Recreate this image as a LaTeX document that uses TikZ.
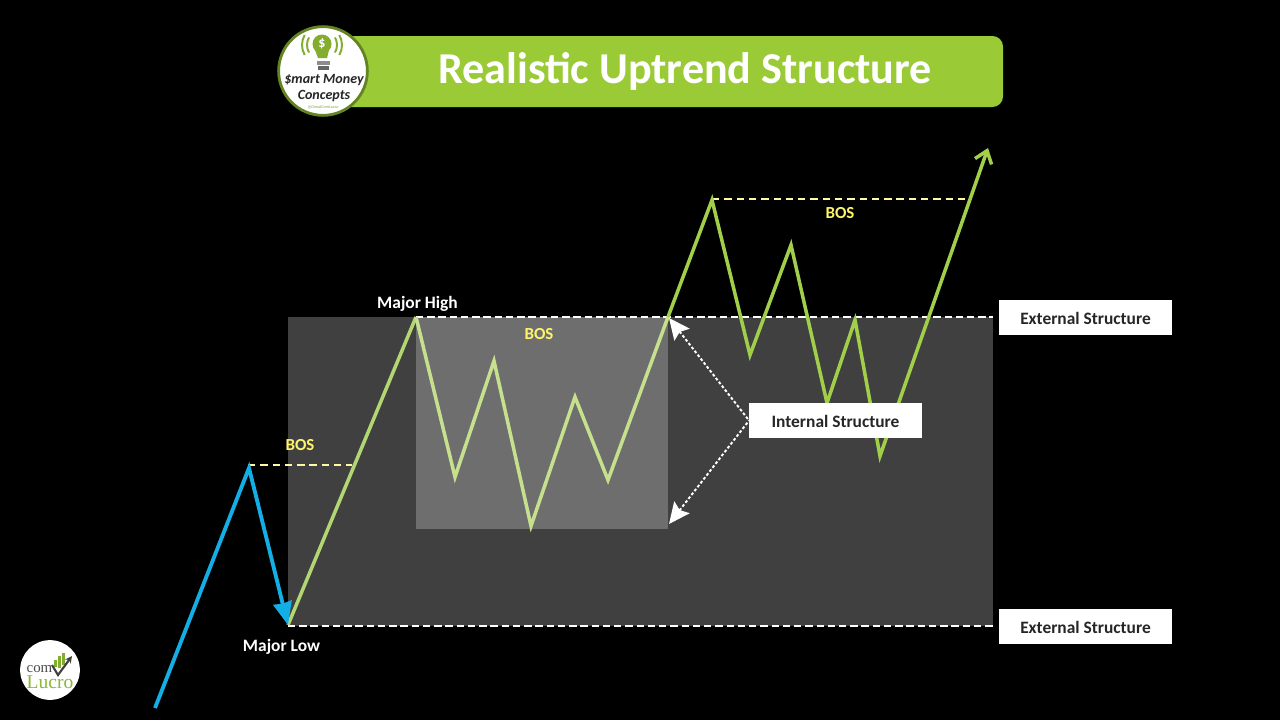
\documentclass[tikz,border=0pt]{standalone}
\usepackage{fontspec}
\setmainfont{Carlito}
\newfontfamily\logofont{Liberation Serif}
\usepackage{xcolor}
\usepackage{tikz}
\usetikzlibrary{positioning}
\usetikzlibrary{arrows.meta}
\usetikzlibrary{calc}

\definecolor{bannergreen}{HTML}{9ACB36}
\definecolor{trendgreen}{HTML}{A2CF4A}
\definecolor{washgreen}{HTML}{B2D672}
\definecolor{palegreen}{HTML}{C6E08E}
\definecolor{trendblue}{HTML}{14AEE6}
\definecolor{bosyellow}{HTML}{FFF56A}
\definecolor{darkzone}{HTML}{404040}
\definecolor{lightzone}{HTML}{6E6E6E}

\tikzset{
	trend/.style={line width=2pt, line join=miter},
	level/.style={white, line width=0.8pt, dash pattern=on 4.2pt off 2.2pt},
	boslevel/.style={bosyellow!60!white, line width=0.8pt, dash pattern=on 4.2pt off 2.8pt},
	tag/.style={fill=white, text=black!85, font=\fontsize{9.9}{11}\selectfont\bfseries, minimum width=98pt, minimum height=19.8pt, inner sep=0pt, text height=7.6pt, text depth=0pt},
	bos/.style={text=bosyellow, font=\fontsize{9.6}{11}\selectfont\bfseries, inner sep=0pt},
	major/.style={text=white, font=\fontsize{9.9}{11}\selectfont\bfseries, inner sep=0pt},
	pointer/.style={white, line width=1.1pt, dash pattern=on 1.6pt off 1.2pt, {Stealth[length=12pt,width=11pt,inset=2pt]}-},
}

\begin{document}
\begin{tikzpicture}[x=0.02cm, y=-0.02cm]
\fill[black] (0,0) rectangle (1280,720);
\useasboundingbox (0,0) rectangle (1280,720);

% zones
\fill[darkzone] (288,317) rectangle (993,626);
\fill[lightzone] (416,317) rectangle (668,529);

% blue leg
\coordinate (start) at (155,708);
\coordinate (peak0) at (249,468);
\coordinate (low) at (288,625);

% green leg
\coordinate (high) at (416,317);
\coordinate (a1) at (455,477);
\coordinate (a2) at (494,361);
\coordinate (a3) at (531,526);
\coordinate (a4) at (575,397);
\coordinate (a5) at (608,480);
\coordinate (a6) at (668,317);
\coordinate (b0) at (712,200);
\coordinate (b1) at (750,355);
\coordinate (b2) at (791,245);
\coordinate (b3) at (827,403);
\coordinate (b4) at (855,320);
\coordinate (b5) at (880,456);
\coordinate (end) at (988,148);

% levels
\coordinate (ext0) at (993,317);
\coordinate (ext1) at (993,626);
\coordinate (bos0a) at (248,465);
\coordinate (bos0b) at (352,465);
\coordinate (bos1b) at (968,199);
\draw[level] (high) -- (ext0);
\draw[level] (288,626) -- (ext1);
\draw[boslevel] (bos0a) -- (bos0b);
\draw[boslevel] (b0) ++(0,-1) -- (bos1b);

\draw[trend, washgreen] (low) -- (high);
\draw[trend, palegreen] (high) -- (a1) -- (a2) -- (a3) -- (a4) -- (a5) -- (a6);
\draw[trend, trendgreen, -{Straight Barb[length=6.5pt,width=10pt,line width=2pt]}] (a6) -- (b0) -- (b1) -- (b2) -- (b3) -- (b4) -- (b5) -- (end);
\draw[trend, trendblue, line width=2.2pt, -{Stealth[length=13pt,width=10.5pt,inset=0.5pt]}] (start) -- (peak0) -- (low);

% labels
\node[tag] (ext0tag) at (1085.5,317.5) {External Structure};
\node[tag] (ext1tag) at (1085.5,626.5) {External Structure};
\node[tag] (inttag) at (835.5,420.5) {Internal Structure};
\node[major] (hightag) at (417.5,303.5) {Major High};
\node[major] (lowtag) at (281.5,647) {Major Low};
\node[bos] (bos0) at (300,445) {BOS};
\node[bos] (bos1) at (539,334) {BOS};
\node[bos] (bos2) at (840,213) {BOS};

\coordinate (arrowtop) at (669,318);
\coordinate (arrowbot) at (669,524);
\draw[pointer] (arrowtop) -- (inttag.west);
\draw[pointer] (arrowbot) -- (inttag.west);

% banner
\fill[bannergreen, rounded corners=6pt] (340,36) rectangle (1003,107);
\node[white, font=\fontsize{25.1}{29}\selectfont\bfseries, inner sep=0pt] (title) at (685,71) {Realistic Uptrend Structure};

% top logo
\node[circle, draw=black!35!bannergreen, fill=white, line width=1.6pt, minimum size=50.5pt, inner sep=0pt] (logo) at (323,71) {};
\fill[black!15!bannergreen] (322,44) circle (9.5);
\fill[black!15!bannergreen] (315,50) -- (329,50) -- (327,58) -- (318,58) -- cycle;
\fill[black!45] (317,61) rectangle (330,65);
\fill[black!60] (318,66) rectangle (329,70);
\foreach \r in {15,20} {
	\draw[black!15!bannergreen, line width=1.1pt] (322,45) ++(150:\r) arc (150:210:\r);
	\draw[black!15!bannergreen, line width=1.1pt] (322,45) ++(30:\r) arc (30:-30:\r);
}
\node[white, font=\fontsize{8}{9}\selectfont\bfseries, inner sep=0pt] (dollar) at (322,44) {\$};
\node[black!85, font=\fontsize{8}{8.6}\selectfont\bfseries\itshape, align=center, inner sep=0pt] (logotext) at (324,88) {\$mart Money\\Concepts};
\node[black!15!bannergreen, font=\fontsize{2.4}{3}\selectfont\itshape, inner sep=0pt] (logohandle) at (323,107) {@DonalComLucro};

% bottom logo
\node[circle, fill=white, minimum size=34pt, inner sep=0pt] (lucro) at (50,670) {};
\fill[bannergreen!85!black] (54,660) rectangle (57,667);
\fill[bannergreen!85!black] (58,656) rectangle (61,668);
\fill[bannergreen!85!black] (62,653) rectangle (65,665);
\draw[black!75, line width=1.2pt, -{Stealth[length=4pt,width=4pt]}] (52,665) -- (58,675) -- (72,656);
\node[black!70, font=\logofont\fontsize{8.5}{9}\selectfont, inner sep=0pt] (lucrocom) at (39.5,669) {com};
\node[bannergreen!90!black, font=\logofont\fontsize{11.1}{12}\selectfont, inner sep=0pt] (lucroname) at (50,682) {Lucro};
\end{tikzpicture}
\end{document}
